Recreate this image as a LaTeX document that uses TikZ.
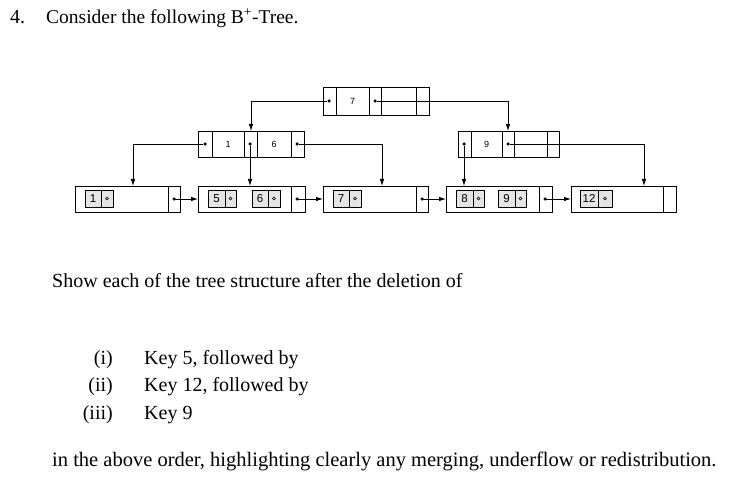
\documentclass[tikz,border=0pt]{standalone}
\usepackage{fontspec}
\setmainfont{Liberation Serif}
\newfontfamily\arial{Liberation Sans}
\usetikzlibrary{arrows.meta}
\begin{document}
\begin{tikzpicture}[x=1pt,y=-1pt,
  box/.style={draw,line width=0.9pt},
  ent/.style={draw,fill=gray!20,line width=0.8pt},
  lbl/.style={font=\arial\fontsize{9}{9}\selectfont,inner sep=0},
  lkey/.style={font=\arial\fontsize{11.5}{11.5}\selectfont,inner sep=0},
  conn/.style={line width=0.8pt,-{Latex[length=7pt,width=4.5pt]}},
  dot/.style={circle,fill,inner sep=0,minimum size=3.5pt},
  txt/.style={font=\fontsize{20}{22}\selectfont,inner sep=0,anchor=base west}]
\useasboundingbox (0,0) rectangle (730,481);
% root
\draw[box] (323,87) rectangle (429,115);
\foreach \x in {336,369,381,416} \draw[box] (\x,87) -- (\x,115);
\node[lbl] (k7) at (352.5,101) {7};
\node[dot] (r0) at (329,101) {};
\node[dot] (r1) at (375,101) {};
% internal left
\draw[box] (198,131) rectangle (304,157);
\foreach \x in {212,244,257,291} \draw[box] (\x,131) -- (\x,157);
\node[lbl] at (228,144) {1};
\node[lbl] at (274,144) {6};
\node[dot] (a0) at (205,144) {};
\node[dot] (a1) at (250,144) {};
\node[dot] (a2) at (297,144) {};
% internal right
\draw[box] (458,131) rectangle (559,157);
\foreach \x in {471,502,514,547} \draw[box] (\x,131) -- (\x,157);
\node[lbl] at (486.5,144) {9};
\node[dot] (b0) at (464,144) {};
\node[dot] (b1) at (508,144) {};
% leaves
\foreach \l/\r/\d in {75/180/168,198/305/291,323/428/416,446/552/539,571/676/663}{
  \draw[box] (\l,186) rectangle (\r,212);
  \draw[box] (\d,186) -- (\d,212);
}
\foreach \l/\m/\r/\k in {85/101/113/1,208/225/236/5,252/268/280/6,333/349/361/7,456/473/484/8,498/515/526/9,580/598/612/12}{
  \draw[ent] (\l,190) rectangle (\r,207);
  \draw[line width=0.8pt] (\m,190) -- (\m,207);
  \node[lkey] at ({(\l+\m)/2},198.5) {\k};
  \draw[line width=0.5pt] ({(\m+\r)/2},198.5) circle (1.5pt);
}
\foreach \d/\n in {168/198,291/323,416/446,539/571}{
  \node[dot] at (\d+6,199) {};
  \draw[conn] (\d+6,199) -- (\n,199);
}
% connectors
\draw[conn] (r0) -| (251,131);
\draw[conn] (r1) -| (508,131);
\draw[conn] (a0) -| (133,186);
\draw[conn] (a1) -- (250,186);
\draw[conn] (a2) -| (382,186);
\draw[conn] (b0) -- (464,186);
\draw[conn] (b1) -| (644,186);
% text
\node[txt] (t1) at (10,24) {4.};
\node[txt,font=\fontsize{19.5}{22}\selectfont] (t2) at (46,24) {Consider the following B\textsuperscript{+}-Tree.};
\node[txt] (t3) at (52,287) {Show each of the tree structure after the deletion of};
\node[txt,anchor=base east] at (113,364) {(i)};
\node[txt,anchor=base east] at (113,391) {(ii)};
\node[txt,anchor=base east] at (113,419) {(iii)};
\node[txt] at (144,364) {Key 5, followed by};
\node[txt] at (144,391) {Key 12, followed by};
\node[txt] at (144,419) {Key 9};
\node[txt,font=\fontsize{20.5}{22}\selectfont] (t4) at (52,466) {in the above order, highlighting clearly any merging, underflow or redistribution.};
\end{tikzpicture}
\end{document}
